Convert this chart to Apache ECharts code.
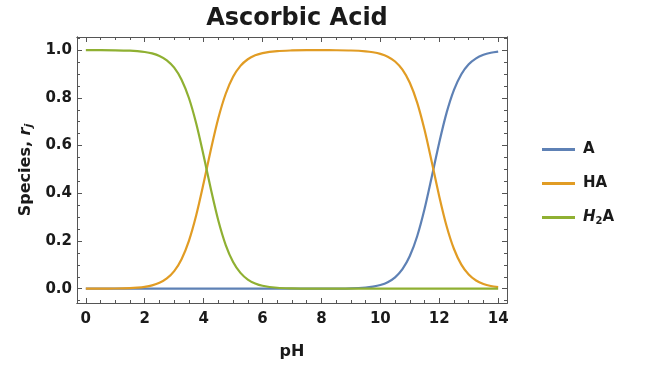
<!DOCTYPE html>
<html>
<head>
<meta charset="utf-8">
<script src="https://cdn.jsdelivr.net/npm/echarts@6/dist/echarts.min.js"></script>
<style>html,body{margin:0;padding:0;background:#fff}#c{width:649px;height:376px}</style>
</head>
<body>
<div id="c"></div>
<script>
// pH sample points
var pH = [0,0.5,1,1.5,1.75,2,2.25,2.5,2.75,3,3.25,3.5,3.75,4,4.25,4.5,4.75,5,5.25,5.5,5.75,6,6.5,7,7.5,8,8.5,9,9.5,9.75,10,10.25,10.5,10.75,11,11.25,11.5,11.75,12,12.25,12.5,12.75,13,13.25,13.5,13.75,14];
var speciesA = [0,0,0,0,0,0,0,0,0,0,0,0,0,0,0,0,0,0,0,0,0,0,0,0,0,0.0002,0.0005,0.0016,0.005,0.0089,0.0156,0.0274,0.0477,0.0818,0.1368,0.2199,0.3339,0.4712,0.6131,0.7381,0.8337,0.8991,0.9406,0.9657,0.9804,0.9889,0.9937];
var speciesHA = [0,0.0003,0.0008,0.0025,0.0045,0.0079,0.0139,0.0245,0.0428,0.0736,0.1238,0.2007,0.3088,0.4427,0.5855,0.7153,0.8171,0.8882,0.9339,0.9617,0.9781,0.9876,0.996,0.9987,0.9996,0.9997,0.9995,0.9984,0.995,0.9911,0.9844,0.9726,0.9523,0.9182,0.8632,0.7801,0.6661,0.5288,0.3869,0.2619,0.1663,0.1009,0.0594,0.0343,0.0196,0.0111,0.0063];
var speciesH2A = [1,1,0.9992,0.9975,0.9955,0.9921,0.9861,0.9755,0.9572,0.9264,0.8762,0.7993,0.6912,0.5573,0.4145,0.2847,0.1829,0.1118,0.0661,0.0383,0.0219,0.0124,0.004,0.0013,0.0004,0.0001,0,0,0,0,0,0,0,0,0,0,0,0,0,0,0,0,0,0,0,0,0];
var seriesNames = ['A','HA','H2A'];
var xMajor = [0,2,4,6,8,10,12,14];
var xMinor = [0,0.5,1,1.5,2,2.5,3,3.5,4,4.5,5,5.5,6,6.5,7,7.5,8,8.5,9,9.5,10,10.5,11,11.5,12,12.5,13,13.5,14];
var yMajor = [0,0.2,0.4,0.6,0.8,1.0];
var yMinor = [-0.05,0,0.05,0.1,0.15,0.2,0.25,0.3,0.35,0.4,0.45,0.5,0.55,0.6,0.65,0.7,0.75,0.8,0.85,0.9,0.95,1.0,1.05];

function pairs(ys){ return pH.map(function(x,i){ return [x, ys[i]]; }); }

var FONT = '"DejaVu Sans", "Liberation Sans", Arial, sans-serif';
var FRAME = '#555';
var TXT = '#1a1a1a';
var XMIN = -0.3, XMAX = 14.3, YMIN = -0.06, YMAX = 1.055;

function xAx(pos, major, showLabel, extra){
  var a = {
    type: 'value', gridIndex: 0, position: pos, min: XMIN, max: XMAX,
    axisLine: {show: true, onZero: false, lineStyle: {color: FRAME, width: 1}},
    axisTick: {show: true, inside: true, length: major ? 5 : 3, customValues: major ? xMajor : xMinor, lineStyle: {color: FRAME}},
    axisLabel: {show: showLabel, customValues: xMajor, fontFamily: FONT, fontWeight: 'bold', fontSize: 15, color: TXT, margin: 9},
    splitLine: {show: false}
  };
  for (var k in extra) a[k] = extra[k];
  return a;
}
function yAx(pos, major, showLabel, extra){
  var a = {
    type: 'value', gridIndex: 0, position: pos, min: YMIN, max: YMAX,
    axisLine: {show: true, onZero: false, lineStyle: {color: FRAME, width: 1}},
    axisTick: {show: true, inside: true, length: major ? 5 : 3, customValues: major ? yMajor : yMinor, lineStyle: {color: FRAME}},
    axisLabel: {show: showLabel, customValues: yMajor, fontFamily: FONT, fontWeight: 'bold', fontSize: 15, color: TXT, margin: 5,
      formatter: function(v){ return v.toFixed(1); }},
    splitLine: {show: false}
  };
  for (var k in extra) a[k] = extra[k];
  return a;
}

var colors = ['#5E81B5', '#E19C24', '#8FB032'];

var chart = echarts.init(document.getElementById('c'), null, {renderer: 'canvas'});
chart.setOption({
  animation: false,
  backgroundColor: '#fff',
  color: colors,
  title: {
    text: 'Ascorbic Acid', left: 292, textAlign: 'center', top: 2,
    textStyle: {fontFamily: FONT, fontWeight: 'bold', fontSize: 24, color: TXT}
  },
  grid: {left: 77, right: 142, top: 37, bottom: 73, containLabel: false},
  legend: {
    orient: 'vertical', left: 537, top: 137, itemWidth: 33, itemHeight: 3, itemGap: 19,
    icon: 'rect',
    data: seriesNames,
    textStyle: {fontFamily: FONT, fontWeight: 'bold', fontSize: 15, color: TXT, padding: [0, 0, 0, 3],
      rich: {
        i: {fontFamily: FONT, fontStyle: 'italic', fontWeight: 'bold', fontSize: 15, color: TXT},
        s: {fontFamily: FONT, fontWeight: 'bold', fontSize: 10, color: TXT, padding: [7, 0, 0, 0]},
        b: {fontFamily: FONT, fontWeight: 'bold', fontSize: 15, color: TXT}
      }},
    formatter: function(n){ return n === 'H2A' ? '{i|H}{s|2}{b|A}' : n; }
  },
  xAxis: [
    xAx('bottom', true, true, {name: 'pH', nameLocation: 'middle', nameGap: 41,
      nameTextStyle: {fontFamily: FONT, fontWeight: 'bold', fontSize: 16, color: TXT}}),
    xAx('bottom', false, false, {}),
    xAx('top', true, false, {}),
    xAx('top', false, false, {})
  ],
  yAxis: [
    yAx('left', true, true, {name: 'Species, {i|r}{s|j}', nameLocation: 'middle', nameGap: 40,
      nameTextStyle: {fontFamily: FONT, fontWeight: 'bold', fontSize: 16, color: TXT,
        rich: {
          i: {fontFamily: FONT, fontStyle: 'italic', fontWeight: 'bold', fontSize: 16, color: TXT},
          s: {fontFamily: FONT, fontStyle: 'italic', fontWeight: 'bold', fontSize: 11, color: TXT, padding: [7, 0, 0, 0]}
        }}}),
    yAx('left', false, false, {}),
    yAx('right', true, false, {}),
    yAx('right', false, false, {})
  ],
  series: [
    {name: 'A', type: 'line', data: pairs(speciesA)},
    {name: 'HA', type: 'line', data: pairs(speciesHA)},
    {name: 'H2A', type: 'line', data: pairs(speciesH2A)}
  ].map(function(s, i){
    s.xAxisIndex = 0; s.yAxisIndex = 0;
    s.symbol = 'none'; s.showSymbol = false;
    s.smooth = 0.3;
    s.lineStyle = {width: 2.2, color: colors[i]};
    s.itemStyle = {color: colors[i]};
    s.clip = true;
    return s;
  })
});
</script>
</body>
</html>
